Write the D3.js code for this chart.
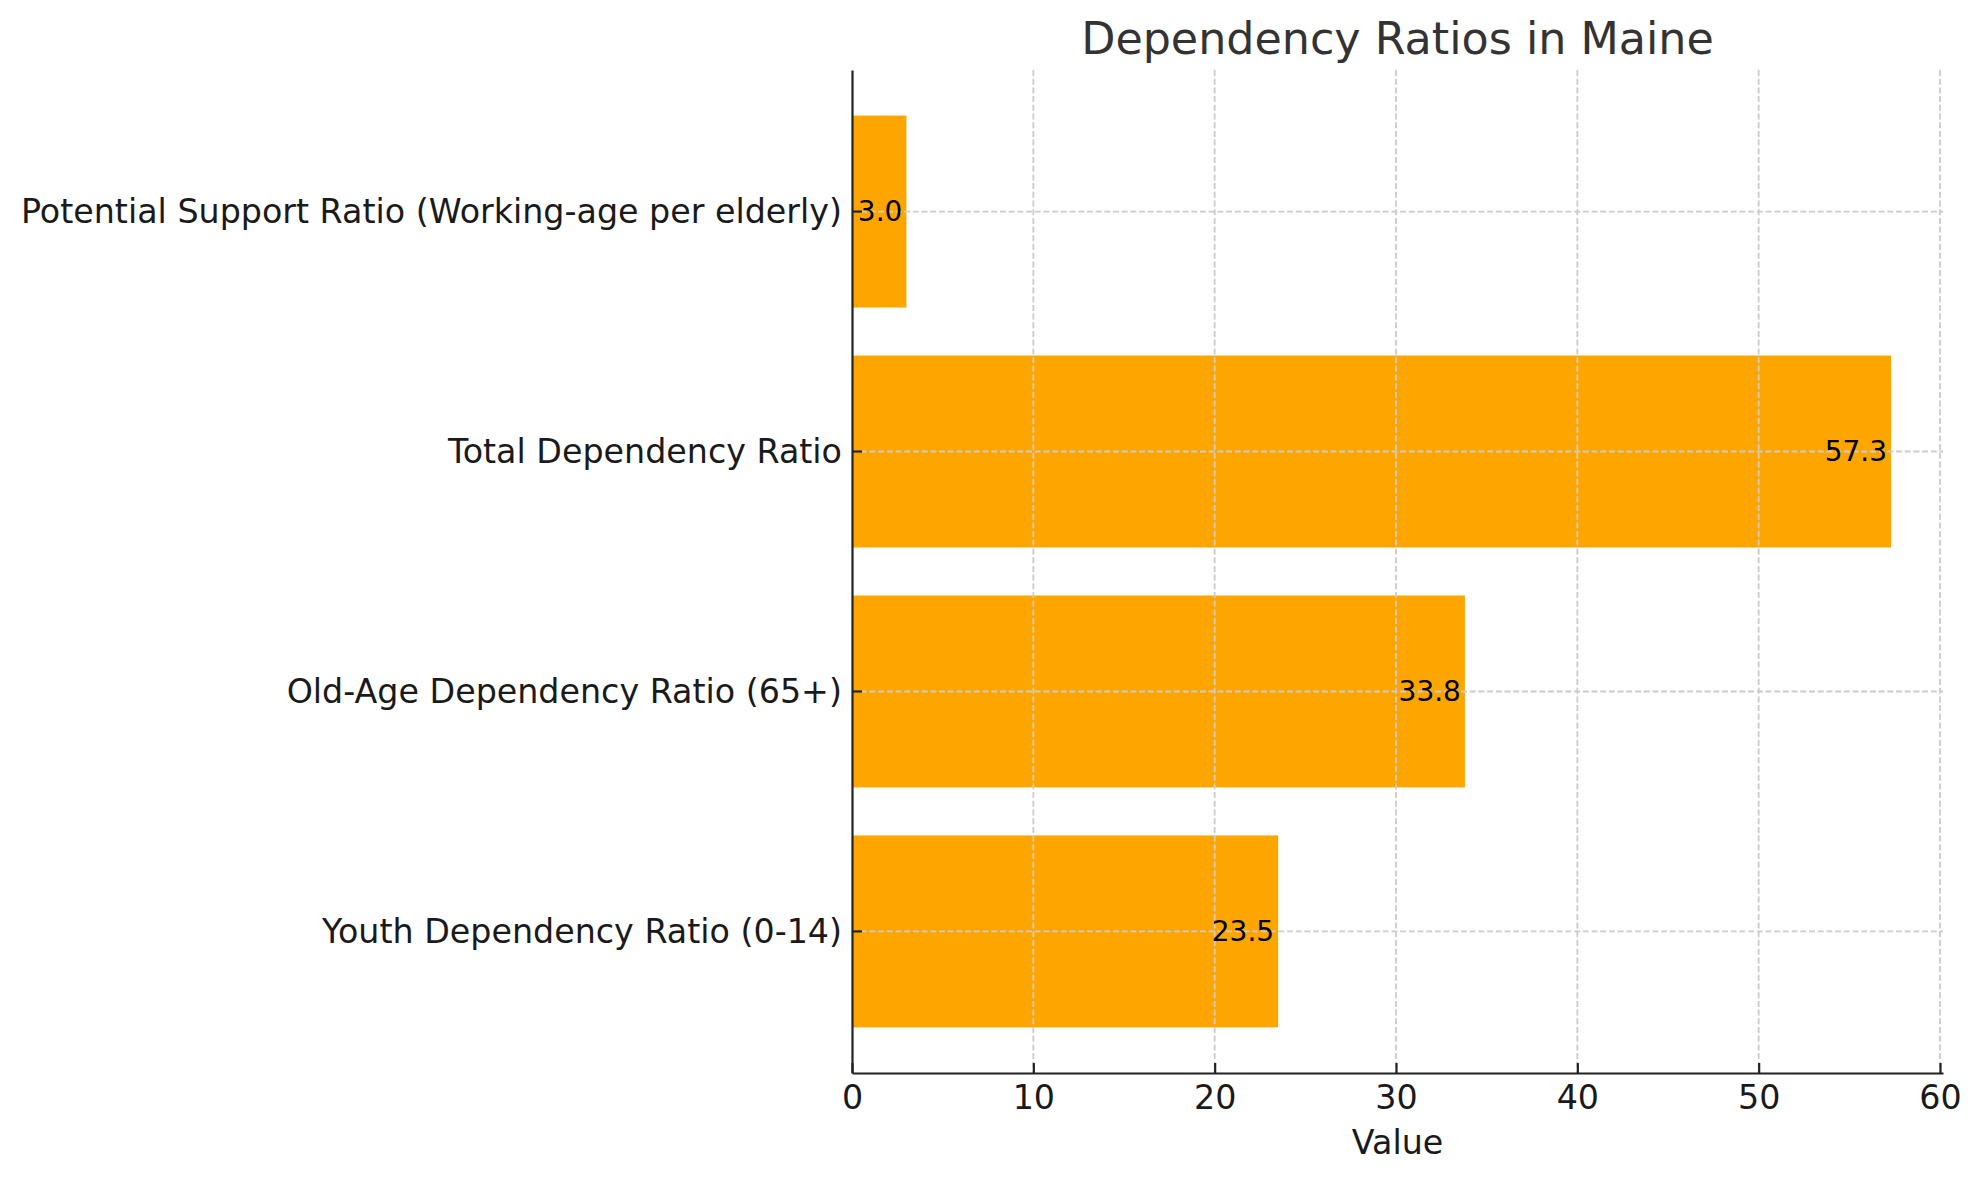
<!DOCTYPE html>
<html>
<head>
<meta charset="utf-8">
<script src="https://cdn.jsdelivr.net/npm/d3@7"></script>
<style>
  body { margin: 0; background: #fff; }
  text { font-family: "DejaVu Sans", sans-serif; }
</style>
</head>
<body>
<svg id="chart" width="1981" height="1180"></svg>
<script>
// data, bottom to top as in the picture
const categories = [
  "Youth Dependency Ratio (0-14)",
  "Old-Age Dependency Ratio (65+)",
  "Total Dependency Ratio",
  "Potential Support Ratio (Working-age per elderly)"
];
const values = [23.5, 33.8, 57.3, 3.0];
const xTicks = [0, 10, 20, 30, 40, 50, 60];

const W = 1981, H = 1180;
const margin = { top: 70, right: 38, bottom: 107, left: 852 };

const svg = d3.select("#chart");

const xScale = d3.scaleLinear()
  .domain([0, d3.max(values) * 1.05])
  .range([margin.left, W - margin.right]);

const yScale = d3.scaleBand()
  .domain(categories.slice().reverse())
  .range([margin.top, H - margin.bottom])
  .paddingInner(0.2)
  .paddingOuter(0.19);

const data = categories.map((c, i) => ({ name: c, value: values[i] }));

// bars
svg.append("g")
  .selectAll("rect")
  .data(data)
  .enter()
  .append("rect")
  .attr("x", xScale(0))
  .attr("y", d => yScale(d.name))
  .attr("width", d => xScale(d.value) - xScale(0))
  .attr("height", yScale.bandwidth())
  .attr("fill", "#FFA500");

// grid, drawn over the bars
const grid = svg.append("g")
  .attr("stroke", "#cccccc")
  .attr("stroke-width", 1.8)
  .attr("stroke-dasharray", "6,2.7");

grid.selectAll(".vgrid")
  .data(xTicks.slice(1))
  .enter()
  .append("line")
  .attr("x1", d => xScale(d))
  .attr("x2", d => xScale(d))
  .attr("y1", margin.top)
  .attr("y2", H - margin.bottom);

grid.selectAll(".hgrid")
  .data(categories)
  .enter()
  .append("line")
  .attr("x1", margin.left)
  .attr("x2", W - margin.right)
  .attr("y1", d => yScale(d) + yScale.bandwidth() / 2)
  .attr("y2", d => yScale(d) + yScale.bandwidth() / 2);

// axes (ticks point inward)
const xAxis = svg.append("g")
  .attr("transform", `translate(0, ${H - margin.bottom})`)
  .call(d3.axisBottom(xScale).tickValues(xTicks).tickSizeInner(-10).tickSizeOuter(0).tickPadding(12));

const yAxis = svg.append("g")
  .attr("transform", `translate(${margin.left}, 0)`)
  .call(d3.axisLeft(yScale).tickSizeInner(-10).tickSizeOuter(0).tickPadding(10));

[xAxis, yAxis].forEach(ax => {
  ax.select(".domain").attr("stroke", "#222").attr("stroke-width", 2.2);
  ax.selectAll(".tick line").attr("stroke", "#222").attr("stroke-width", 2.2);
  ax.selectAll(".tick text")
    .attr("fill", "#1a1a1a")
    .style("font-family", "'DejaVu Sans', sans-serif")
    .style("font-size", "33.3px");
});
xAxis.selectAll(".tick text").attr("dy", "0.71em");
yAxis.selectAll(".tick text").attr("dy", "0.34em");

// value labels
svg.append("g")
  .selectAll("text")
  .data(data)
  .enter()
  .append("text")
  .attr("x", d => xScale(d.value) - 4)
  .attr("y", d => yScale(d.name) + yScale.bandwidth() / 2)
  .attr("dy", "0.35em")
  .attr("text-anchor", "end")
  .attr("fill", "#000")
  .style("font-size", "28px")
  .text(d => d.value.toFixed(1));

// labels
svg.append("text")
  .attr("x", (margin.left + W - margin.right) / 2)
  .attr("y", 1154)
  .attr("text-anchor", "middle")
  .attr("fill", "#1a1a1a")
  .style("font-size", "33.3px")
  .text("Value");

svg.append("text")
  .attr("x", (margin.left + W - margin.right) / 2)
  .attr("y", 54)
  .attr("text-anchor", "middle")
  .attr("fill", "#333")
  .style("font-size", "44.4px")
  .text("Dependency Ratios in Maine");
</script>
</body>
</html>
